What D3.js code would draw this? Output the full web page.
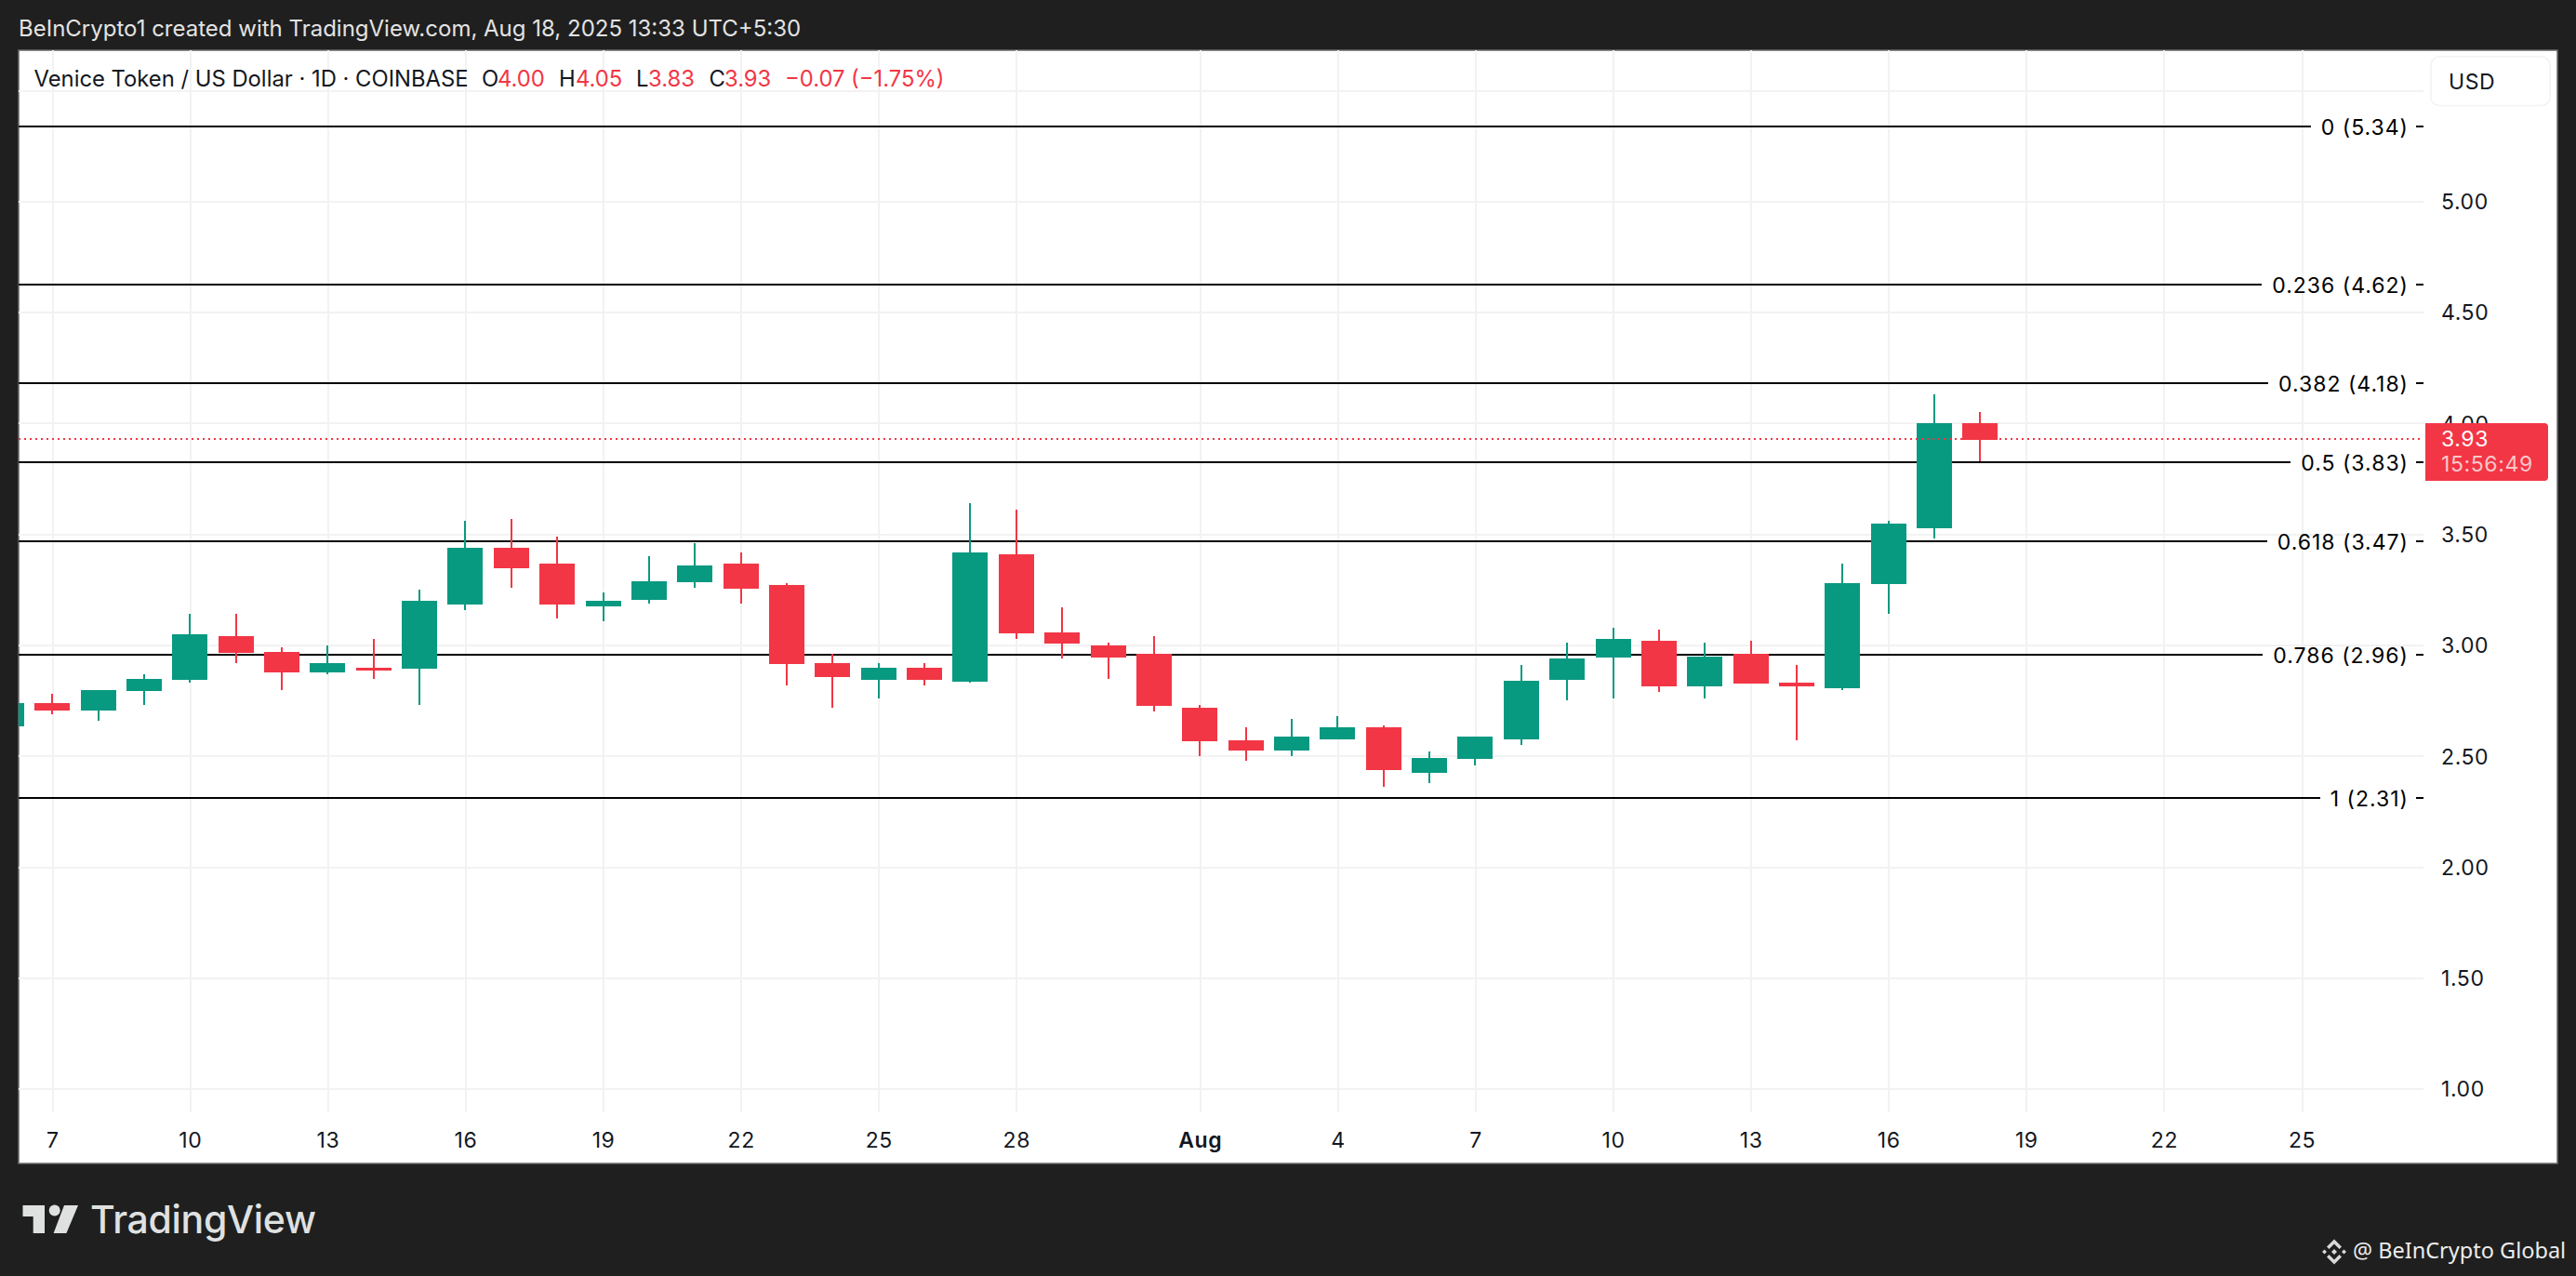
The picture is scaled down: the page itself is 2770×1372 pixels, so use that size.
<!DOCTYPE html>
<html><head><meta charset="utf-8">
<script src="https://cdn.jsdelivr.net/npm/d3@7/dist/d3.min.js"></script>
<style>html,body{margin:0;padding:0;background:#1f1f1f}svg{display:block}text{font-family:Inter,"Open Sans",sans-serif}</style>
</head><body><svg id="c" width="2770" height="1372"></svg>
<script>
const dates=["2025-07-06","2025-07-07","2025-07-08","2025-07-09","2025-07-10","2025-07-11","2025-07-12","2025-07-13","2025-07-14","2025-07-15","2025-07-16","2025-07-17","2025-07-18","2025-07-19","2025-07-20","2025-07-21","2025-07-22","2025-07-23","2025-07-24","2025-07-25","2025-07-26","2025-07-27","2025-07-28","2025-07-29","2025-07-30","2025-07-31","2025-08-01","2025-08-02","2025-08-03","2025-08-04","2025-08-05","2025-08-06","2025-08-07","2025-08-08","2025-08-09","2025-08-10","2025-08-11","2025-08-12","2025-08-13","2025-08-14","2025-08-15","2025-08-16","2025-08-17","2025-08-18"];
const opens=[2.634,2.738,2.705,2.793,2.843,3.040,2.969,2.877,2.898,2.894,3.183,3.438,3.367,3.174,3.204,3.283,3.367,3.271,2.919,2.843,2.898,2.835,3.409,3.057,2.998,2.961,2.718,2.571,2.525,2.575,2.630,2.424,2.487,2.575,2.843,2.944,3.019,2.814,2.961,2.831,2.806,3.275,3.526,4.000];
const highs=[2.760,2.780,2.797,2.868,3.141,3.141,2.990,2.998,3.028,3.250,3.560,3.568,3.489,3.237,3.401,3.459,3.417,3.279,2.961,2.919,2.919,3.640,3.610,3.170,3.011,3.040,2.730,2.630,2.667,2.680,2.638,2.520,2.588,2.910,3.011,3.078,3.070,3.011,3.019,2.910,3.367,3.560,4.130,4.050];
const lows=[2.620,2.688,2.659,2.730,2.831,2.919,2.797,2.868,2.848,2.730,3.158,3.258,3.120,3.107,3.187,3.258,3.187,2.818,2.718,2.759,2.818,2.831,3.028,2.940,2.848,2.701,2.500,2.479,2.500,2.575,2.361,2.378,2.458,2.550,2.751,2.759,2.789,2.759,2.827,2.571,2.797,3.141,3.480,3.828];
const closes=[2.738,2.705,2.797,2.848,3.049,2.965,2.877,2.919,2.885,3.200,3.438,3.346,3.183,3.200,3.288,3.359,3.254,2.915,2.856,2.898,2.843,3.417,3.053,3.007,2.944,2.726,2.567,2.525,2.588,2.630,2.437,2.491,2.588,2.839,2.940,3.028,2.814,2.948,2.827,2.814,3.279,3.547,4.000,3.925];
const gridPrices=[1,1.5,2,2.5,3,3.5,4,4.5,5,5.5];
const priceTicks=[1,1.5,2,2.5,3,3.5,4,4.5,5];
const timeTicks=["2025-07-07","2025-07-10","2025-07-13","2025-07-16","2025-07-19","2025-07-22","2025-07-25","2025-07-28","2025-08-01","2025-08-04","2025-08-07","2025-08-10","2025-08-13","2025-08-16","2025-08-19","2025-08-22","2025-08-25"];
const timeLabels=["7","10","13","16","19","22","25","28","Aug","4","7","10","13","16","19","22","25"];
const fibPrices=[5.337,4.624,4.181,3.825,3.469,2.957,2.312];
const fibLabels=["0 (5.34)","0.236 (4.62)","0.382 (4.18)","0.5 (3.83)","0.618 (3.47)","0.786 (2.96)","1 (2.31)"];
const lastPrice=3.93, lastPriceLabel="3.93", countdown="15:56:49";
const legendParts=[["Venice Token / US Dollar · 1D · COINBASE",36.5,"k"],["O",518,"k"],["4.00",535,"r"],["H",601,"k"],["4.05",619,"r"],["L",684,"k"],["3.83",697,"r"],["C",762.5,"k"],["3.93",779,"r"],["−0.07 (−1.75%)",844,"r"]];
const UP="#089981",DOWN="#f23645",BLACK="#131722",GRID="#f2f2f2";
const panel={l:20,t:54,r:2750,b:1251}, plot={r:2606,b:1196};
const svg=d3.select("#c");
const parse=d3.utcParse("%Y-%m-%d");
const x=d3.scaleUtc().domain([parse("2025-07-07"),parse("2025-08-25")]).range([56.2,2475]);
const y=d3.scaleLinear().domain([5,1]).range([216.4,1170.7]);
const FS=23;
svg.append("rect").attr("width",2770).attr("height",1372).attr("fill","#1f1f1f");
svg.append("rect").attr("x",panel.l).attr("y",panel.t).attr("width",panel.r-panel.l).attr("height",panel.b-panel.t).attr("fill","#fff").attr("stroke","#6a6a6a").attr("stroke-width",1.5);
svg.append("defs").append("clipPath").attr("id","pc").append("rect").attr("x",panel.l).attr("y",panel.t).attr("width",plot.r-panel.l).attr("height",plot.b-panel.t);
// grid via axes
const yg=svg.append("g").attr("transform",`translate(${plot.r},0)`).call(d3.axisLeft(y).tickValues(gridPrices).tickSize(plot.r-panel.l).tickFormat(""));
yg.select(".domain").remove();
yg.selectAll("line").attr("stroke",GRID).attr("stroke-width",2).attr("shape-rendering","crispEdges");
const xg=svg.append("g").attr("transform",`translate(0,${plot.b})`).call(d3.axisTop(x).tickValues(timeTicks.map(parse)).tickSize(plot.b-panel.t).tickFormat(""));
xg.select(".domain").remove();
xg.selectAll("line").attr("stroke",GRID).attr("stroke-width",2).attr("shape-rendering","crispEdges");
// labels axes
const ya=svg.append("g").attr("transform",`translate(2625,0)`).call(d3.axisRight(y).tickValues(priceTicks).tickSize(0).tickPadding(0).tickFormat(d3.format(".2f")));
ya.select(".domain").remove();
ya.selectAll("text").attr("font-size",FS).attr("fill",BLACK).style("letter-spacing","0.6px").attr("dy","0.36em").style("font-family","Inter");
const xa=svg.append("g").attr("transform",`translate(0,${plot.b})`).call(d3.axisBottom(x).tickValues(timeTicks.map(parse)).tickSize(0).tickPadding(0).tickFormat((d,i)=>timeLabels[i]));
xa.select(".domain").remove();
xa.selectAll("text").attr("font-size",FS).attr("fill",BLACK).attr("y",30).attr("dy","0.36em").style("letter-spacing","0.6px").style("font-family","Inter").attr("font-weight",(d,i)=>timeLabels[i]==="Aug"?600:400);
// fib labels & lines
const fg=svg.append("g");
const fibT=fg.selectAll("text").data(fibPrices).join("text").attr("x",2590).attr("y",d=>y(d)+1).attr("dy","0.36em").attr("text-anchor","end").attr("font-size",FS).attr("fill","#000").style("letter-spacing","1px").text((d,i)=>fibLabels[i]);
const clip=svg.append("g").attr("clip-path","url(#pc)");
fibT.each(function(d){
  const w=this.getComputedTextLength(), yy=Math.round(y(d));
  [[panel.l,2590-w-11],[2598,plot.r]].forEach(s=>clip.append("line").attr("x1",s[0]).attr("x2",s[1]).attr("y1",yy).attr("y2",yy).attr("stroke","#000").attr("stroke-width",2).attr("shape-rendering","crispEdges"));
});
// candles
const candles=dates.map((d,i)=>({t:parse(d),o:opens[i],h:highs[i],l:lows[i],c:closes[i]}));
const col=d=>d.c>=d.o?UP:DOWN;
const cg=clip.append("g").attr("shape-rendering","crispEdges");
cg.selectAll("line").data(candles).join("line").attr("x1",d=>Math.round(x(d.t))).attr("x2",d=>Math.round(x(d.t))).attr("y1",d=>y(d.h)).attr("y2",d=>y(d.l)).attr("stroke",col).attr("stroke-width",2);
cg.selectAll("rect").data(candles).join("rect").attr("x",d=>Math.round(x(d.t))-19).attr("width",38).attr("y",d=>y(Math.max(d.o,d.c))).attr("height",d=>Math.abs(y(d.o)-y(d.c))).attr("fill",col);
// last price
clip.append("line").attr("x1",panel.l).attr("x2",plot.r).attr("y1",Math.round(y(lastPrice))).attr("y2",Math.round(y(lastPrice))).attr("stroke",DOWN).attr("stroke-width",2).attr("stroke-dasharray","2 4").attr("shape-rendering","crispEdges");
svg.append("path").attr("d","M2608 455H2736a4 4 0 0 1 4 4V513a4 4 0 0 1 -4 4H2608Z").attr("fill",DOWN);
svg.append("text").attr("x",2625).attr("y",y(lastPrice)).attr("dy","0.36em").attr("font-size",FS).attr("fill","#fff").style("letter-spacing","0.6px").text(lastPriceLabel);
svg.append("text").attr("x",2625).attr("y",499).attr("dy","0.36em").attr("font-size",FS).attr("fill","#fff").attr("fill-opacity",0.72).style("letter-spacing","0.6px").text(countdown);
// USD
svg.append("rect").attr("x",2614).attr("y",61).attr("width",128).attr("height",52.5).attr("rx",9).attr("fill","#fff").attr("stroke","#f2f2f2").attr("stroke-width",1.5);
svg.append("text").attr("x",2633).attr("y",87.5).attr("dy","0.36em").attr("font-size",FS).attr("fill",BLACK).style("letter-spacing","0.6px").text("USD");
// top text
svg.append("text").attr("x",20).attr("y",39).attr("font-size",24).attr("fill","#e3e3e3").text("BeInCrypto1 created with TradingView.com, Aug 18, 2025 13:33 UTC+5:30");
svg.append("g").selectAll("text").data(legendParts).join("text").attr("x",d=>d[1]).attr("y",93).attr("font-size",23.8).attr("fill",d=>d[2]==="r"?DOWN:BLACK).text(d=>d[0]);
// footer logo
const LOGO="#dfe1e1";
svg.append("path").attr("fill",LOGO).attr("d","M24.5 1296H48V1326H35.7V1308H24.5ZM84 1296H69L57.6 1326H71.4Z");
svg.append("circle").attr("cx",58.7).attr("cy",1301.5).attr("r",6).attr("fill",LOGO);
svg.append("text").attr("x",97).attr("y",1326).attr("font-size",41).attr("font-weight",500).attr("fill",LOGO).style("letter-spacing","-0.3px").text("TradingView");
// footer right
const ic=svg.append("g").attr("fill","#d9d9d9").attr("transform","translate(2510,1346)");
ic.append("path").attr("d","M0 -13.5L8 -5.5L5.5 -3L0 -8.5L-5.5 -3L-8 -5.5Z");
ic.append("path").attr("d","M0 13.5L8 5.5L5.5 3L0 8.5L-5.5 3L-8 5.5Z");
ic.append("path").attr("d","M0 -3L3 0L0 3L-3 0Z");
ic.append("path").attr("d","M-10.5 -2.5L-8 0L-10.5 2.5L-13 0Z");
ic.append("path").attr("d","M10.5 -2.5L13 0L10.5 2.5L8 0Z");
svg.append("text").attr("x",2530).attr("y",1353).attr("font-size",23.5).attr("fill","#ececec").style("font-family","'Noto Sans'").text("@ BeInCrypto Global");
</script></body></html>
